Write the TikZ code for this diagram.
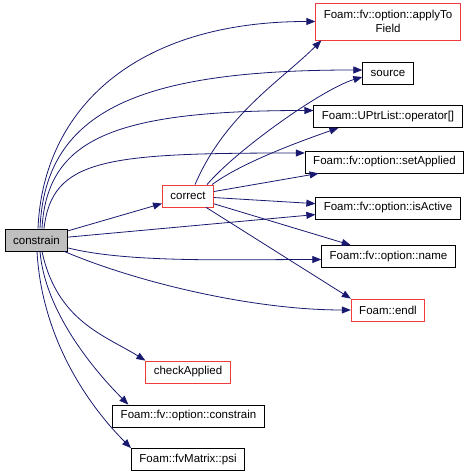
\documentclass[tikz,border=0pt]{standalone}
\usepackage{fontspec}
\setmainfont{Liberation Sans}
\usepackage{tikz}
\usetikzlibrary{arrows.meta}
\definecolor{edgeblue}{HTML}{191970}
\definecolor{hlred}{HTML}{F03C3C}
\definecolor{rootgray}{HTML}{BFBFBF}

\begin{document}
\begin{tikzpicture}[
    x=1bp, y=1bp,
    fn/.style={draw, rectangle, line width=0.8bp, inner xsep=8bp, inner ysep=2bp,
               minimum height=22bp, font=\fontsize{11.5bp}{13.5bp}\selectfont},
    hl/.style={fn, draw=hlred},
    arr/.style={-{Stealth[length=9bp, width=7bp, inset=0pt]}, draw=edgeblue, line width=0.8bp},
  ]
  \useasboundingbox (0,0) rectangle (474,476);

  % caller, and the two columns of callees
  \node[fn, fill=rootgray] (cons) at (36.5,236)  {constrain};
  \node[hl]  (corr) at (188,280)   {correct};
  \node[hl, align=center, minimum height=37bp] (atf) at (388,454.5) {Foam::fv::option::applyTo\\Field};
  \node[fn]  (src)  at (388,402.5) {source};
  \node[fn]  (upl)  at (388,359.5) {Foam::UPtrList::operator[]};
  \node[fn]  (sap)  at (384.5,314) {Foam::fv::option::setApplied};
  \node[fn]  (act)  at (388,268)   {Foam::fv::option::isActive};
  \node[fn]  (nam)  at (388.5,219.5) {Foam::fv::option::name};
  \node[hl]  (endl) at (388,166)   {Foam::endl};
  \node[hl]  (chk)  at (188,104)   {checkApplied};
  \node[fn]  (ocon) at (188.5,60)  {Foam::fv::option::constrain};
  \node[fn]  (psi)  at (188,16.5)  {Foam::fvMatrix::psi};

  % constrain -> upper callees (arcs leaving the top)
  \draw[arr] ([xshift=1.5bp]cons.north) .. controls +(5,120) and +(-180,0) .. (atf.west);
  \draw[arr] ([xshift=3.5bp]cons.north) .. controls +(5,120) and +(-220,0) .. ([yshift=3.5bp]src.west);
  \draw[arr] ([xshift=5.5bp]cons.north) .. controls +(5,90) and +(-200,0) .. ([yshift=6bp]upl.west);
  \draw[arr] ([xshift=7.5bp]cons.north) .. controls +(8,70) and +(-200,0) .. ([yshift=9bp]sap.west);

  % constrain -> middle callees
  \draw[arr] (cons) -- (corr);
  \draw[arr] (cons) -- (act);
  \draw[arr] ([yshift=-8bp]cons.east) .. controls +(60,-15) and +(-90,0) .. ([yshift=-3bp]nam.west);
  \draw[arr] ([xshift=-4bp]cons.south east) .. controls +(70,-30) and +(-100,0) .. (endl.west);

  % constrain -> lower callees (arcs leaving the bottom)
  \draw[arr] ([xshift=5.5bp]cons.south) .. controls +(15,-70) and +(-40,25) .. (chk.north west);
  \draw[arr] ([xshift=3.5bp]cons.south) .. controls +(5,-60) and +(-35,35) .. ([xshift=16bp]ocon.north west);
  \draw[arr] ([xshift=0.5bp]cons.south) .. controls +(5,-90) and +(-40,40) .. (psi.north west);

  % correct -> its callees
  \draw[arr] ([xshift=7bp]corr.north) .. controls +(30,70) and +(-40,-40) .. ([xshift=6bp]atf.south west);
  \draw[arr] ([xshift=19bp]corr.north) .. controls +(30,35) and +(-40,-12) .. ([yshift=-3.5bp]src.west);
  \draw[arr] ([xshift=24bp]corr.north) .. controls +(30,22) and +(-40,-14) .. ([xshift=25bp]upl.south west);
  \draw[arr] (corr) -- (sap);
  \draw[arr] (corr) -- (act);
  \draw[arr] (corr) -- (nam);
  \draw[arr] (corr) -- (endl.north west);
\end{tikzpicture}
\end{document}
